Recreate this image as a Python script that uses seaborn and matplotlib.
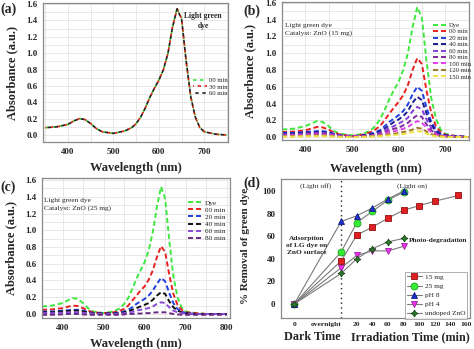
import matplotlib
matplotlib.use("Agg")
import matplotlib.pyplot as plt
import seaborn as sns

# ---------------- data ----------------
wl = [350, 375, 400, 412, 425, 437, 450, 462, 475, 500, 525, 540, 550, 560, 570,
      580, 590, 600, 610, 620, 630, 640, 650, 660, 670, 680, 690, 700, 725, 750]
wl_c = wl + [775, 800]

# (a) light green dye alone, kept in the dark
abs_a_00 = [0.09, 0.10, 0.13, 0.17, 0.20, 0.19, 0.14, 0.08, 0.04, 0.02, 0.05, 0.09, 0.14, 0.22, 0.33,
            0.46, 0.57, 0.67, 0.80, 1.00, 1.32, 1.55, 1.42, 0.90, 0.47, 0.22, 0.09, 0.04, 0.01, 0.00]
abs_a_30 = [0.09, 0.10, 0.13, 0.17, 0.20, 0.19, 0.14, 0.08, 0.04, 0.02, 0.05, 0.09, 0.14, 0.22, 0.33,
            0.46, 0.57, 0.67, 0.80, 1.00, 1.32, 1.54, 1.42, 0.90, 0.47, 0.22, 0.09, 0.04, 0.01, 0.00]
abs_a_60 = [0.09, 0.10, 0.13, 0.17, 0.20, 0.19, 0.14, 0.08, 0.04, 0.02, 0.05, 0.09, 0.14, 0.22, 0.33,
            0.46, 0.57, 0.67, 0.80, 1.00, 1.32, 1.54, 1.41, 0.90, 0.47, 0.22, 0.09, 0.04, 0.01, 0.00]
labels_a = ["00 min", "30 min", "60 min"]

# (b) ZnO 15 mg
abs_b = {
    "Dye":     [0.09, 0.10, 0.13, 0.16, 0.19, 0.18, 0.13, 0.07, 0.04, 0.02, 0.04, 0.08, 0.13, 0.21, 0.32,
                0.45, 0.56, 0.66, 0.80, 1.00, 1.31, 1.55, 1.42, 0.90, 0.47, 0.22, 0.09, 0.04, 0.01, 0.00],
    "00 min":  [0.06, 0.065, 0.08, 0.10, 0.12, 0.115, 0.09, 0.05, 0.03, 0.01, 0.03, 0.06, 0.09, 0.13, 0.20,
                0.28, 0.35, 0.42, 0.50, 0.62, 0.80, 0.94, 0.87, 0.55, 0.29, 0.13, 0.06, 0.03, 0.01, 0.00],
    "20 min":  [0.05, 0.05, 0.06, 0.065, 0.07, 0.07, 0.06, 0.04, 0.02, 0.01, 0.02, 0.04, 0.06, 0.08, 0.13,
                0.18, 0.22, 0.26, 0.31, 0.39, 0.51, 0.60, 0.55, 0.35, 0.18, 0.09, 0.04, 0.02, 0.01, 0.00],
    "40 min":  [0.04, 0.04, 0.05, 0.055, 0.06, 0.06, 0.05, 0.035, 0.02, 0.01, 0.02, 0.03, 0.04, 0.07, 0.10,
                0.14, 0.18, 0.21, 0.25, 0.31, 0.41, 0.48, 0.44, 0.28, 0.15, 0.07, 0.03, 0.02, 0.01, 0.00],
    "60 min":  [0.03, 0.03, 0.04, 0.045, 0.05, 0.05, 0.04, 0.03, 0.02, 0.01, 0.015, 0.02, 0.03, 0.05, 0.08,
                0.11, 0.13, 0.16, 0.19, 0.23, 0.31, 0.36, 0.33, 0.21, 0.11, 0.05, 0.02, 0.01, 0.005, 0.00],
    "80 min":  [0.02, 0.02, 0.03, 0.035, 0.04, 0.04, 0.03, 0.02, 0.01, 0.005, 0.01, 0.015, 0.02, 0.04, 0.06,
                0.08, 0.10, 0.11, 0.14, 0.17, 0.22, 0.26, 0.24, 0.15, 0.08, 0.04, 0.02, 0.01, 0.005, 0.00],
    "100 min": [0.02, 0.02, 0.025, 0.03, 0.03, 0.03, 0.025, 0.02, 0.01, 0.005, 0.01, 0.01, 0.02, 0.03, 0.04,
                0.06, 0.07, 0.08, 0.10, 0.12, 0.16, 0.19, 0.17, 0.11, 0.06, 0.03, 0.015, 0.01, 0.005, 0.00],
    "120 min": [0.01, 0.01, 0.015, 0.02, 0.02, 0.02, 0.015, 0.01, 0.005, 0.0, 0.005, 0.01, 0.01, 0.02, 0.025,
                0.035, 0.04, 0.05, 0.06, 0.07, 0.09, 0.11, 0.10, 0.065, 0.035, 0.02, 0.01, 0.005, 0.0, 0.00],
    "150 min": [0.005, 0.005, 0.01, 0.01, 0.01, 0.01, 0.01, 0.005, 0.0, 0.0, 0.0, 0.005, 0.01, 0.01, 0.015,
                0.02, 0.025, 0.03, 0.035, 0.045, 0.06, 0.07, 0.065, 0.04, 0.02, 0.01, 0.005, 0.0, 0.0, 0.00],
}
colors_b = ["#3ee83e", "#e82020", "#1f3fe0", "#1a1a8c", "#8a3fd8", "#7b2a9c", "#e040e8", "#a07828", "#f0e040"]

# (c) ZnO 25 mg
abs_c = {
    "Dye":    [0.09, 0.10, 0.13, 0.16, 0.19, 0.18, 0.13, 0.07, 0.03, 0.01, 0.03, 0.07, 0.12, 0.19, 0.30,
               0.42, 0.52, 0.62, 0.76, 0.98, 1.28, 1.52, 1.38, 0.88, 0.45, 0.20, 0.08, 0.03, 0.01, 0.0, 0.0, 0.0],
    "00 min": [0.05, 0.055, 0.07, 0.085, 0.10, 0.095, 0.07, 0.04, 0.02, 0.01, 0.02, 0.04, 0.06, 0.10, 0.16,
               0.22, 0.28, 0.33, 0.41, 0.52, 0.68, 0.81, 0.74, 0.47, 0.24, 0.11, 0.05, 0.02, 0.01, 0.0, 0.0, 0.0],
    "20 min": [0.03, 0.03, 0.04, 0.045, 0.05, 0.05, 0.04, 0.025, 0.01, 0.005, 0.01, 0.02, 0.03, 0.05, 0.08,
               0.12, 0.15, 0.18, 0.22, 0.28, 0.36, 0.43, 0.39, 0.25, 0.13, 0.06, 0.03, 0.01, 0.0, 0.0, 0.0, 0.0],
    "40 min": [0.02, 0.02, 0.03, 0.035, 0.04, 0.04, 0.03, 0.02, 0.01, 0.005, 0.005, 0.01, 0.02, 0.03, 0.05,
               0.07, 0.09, 0.11, 0.13, 0.17, 0.22, 0.26, 0.24, 0.15, 0.08, 0.04, 0.02, 0.01, 0.0, 0.0, 0.0, 0.0],
    "60 min": [0.01, 0.01, 0.015, 0.02, 0.02, 0.02, 0.015, 0.01, 0.005, 0.0, 0.0, 0.005, 0.01, 0.015, 0.025,
               0.04, 0.05, 0.06, 0.07, 0.09, 0.12, 0.14, 0.13, 0.08, 0.04, 0.02, 0.01, 0.005, 0.0, 0.0, 0.0, 0.0],
    "80 min": [-0.01, -0.01, -0.005, 0.0, 0.0, 0.0, -0.005, -0.01, -0.01, -0.01, -0.01, -0.01, -0.005, 0.0, 0.0,
               0.005, 0.005, 0.01, 0.01, 0.015, 0.02, 0.02, 0.02, 0.01, 0.0, -0.005, -0.01, -0.01, -0.01, -0.01, -0.01, -0.01],
}
colors_c = ["#3ee83e", "#e82020", "#1f3fe0", "#111111", "#8a4ad8", "#6a2a80"]

# (d) % removal; x = -60 stands for dark time 0, x = 0 for "overnight"
t_long = [-60, 0, 20, 40, 60, 80, 100, 120, 150]
t_short = [-60, 0, 20, 40, 60, 80]
rem_15mg = [0, 38, 61, 68, 76, 83, 87, 91, 96]
rem_25mg = [0, 46, 72, 82, 92, 99]
rem_ph8 = [0, 73, 78, 85, 93, 100]
rem_ph4 = [0, 32, 43, 47, 47, 51]
rem_undoped = [0, 27, 40, 49, 55, 58]
d_labels = ["15 mg", "25 mg", "pH 8", "pH 4", "undoped ZnO"]
d_colors = ["#e02020", "#33ee33", "#2030d0", "#ee33ee", "#2a7a2a"]
d_edges = ["#901010", "#20a020", "#101880", "#a020a0", "#1a4a1a"]
d_markers = ["s", "o", "^", "v", (4, 1, 0)]
d_xticks = [-60, 0, 20, 40, 60, 80, 100, 120, 140, 160]
d_xticklabels = ["0", "overnight", "20", "40", "60", "80", "100", "120", "140", "160"]

# ---------------- style ----------------
sns.set_theme(style="white")
plt.rcParams["font.family"] = ["Liberation Serif", "DejaVu Serif"]
plt.rcParams["lines.dashed_pattern"] = [2.6, 1.5]
plt.rcParams["axes.edgecolor"] = "#8a8a8a"

W, H = 474, 349
fig = plt.figure(figsize=(W / 100, H / 100), dpi=100)


def rect(l, t, r, b):
    return [l / W, 1 - b / H, (r - l) / W, (b - t) / H]


ax_a = fig.add_axes(rect(43, 3, 228, 142))
ax_b = fig.add_axes(rect(282, 2, 469, 140))
ax_c = fig.add_axes(rect(42, 178, 230, 318))
ax_d = fig.add_axes(rect(281, 179, 470, 318))

TICK_FS = 6.5
LABEL_FS = 9


def style_spectrum(ax, xlim, ylim, xticks, xlabel_off, ylabel_off):
    ax.set_xlim(*xlim)
    ax.set_ylim(*ylim)
    ax.set_xticks(xticks)
    ax.set_xticks(range(350, int(xlim[1]) + 1, 50), minor=True)
    ax.set_yticks([i * 0.2 for i in range(9)])
    ax.set_yticks([i * 0.1 for i in range(17)], minor=True)
    ax.set_yticklabels([f"{i * 0.2:.1f}" for i in range(9)])
    ax.grid(True, which="both", color="#e4e4e4", lw=0.6)
    ax.set_axisbelow(True)
    ax.tick_params(axis="both", labelsize=TICK_FS, length=2, width=0.6, pad=2,
                   color="#8a8a8a", direction="out")
    ax.tick_params(which="minor", length=0)
    for lab in ax.get_xticklabels() + ax.get_yticklabels():
        lab.set_fontweight("bold")
    for s in ax.spines.values():
        s.set_linewidth(0.9)
    ax.set_xlabel("Wavelength (nm)", fontsize=LABEL_FS, fontweight="bold")
    ax.set_ylabel("Absorbance (a.u.)", fontsize=LABEL_FS, fontweight="bold")
    ax.xaxis.set_label_coords(0.5, xlabel_off)
    ax.yaxis.set_label_coords(ylabel_off, 0.5)


# ---------------- (a) ----------------
# the three overlapping curves get staggered dash offsets so each colour shows through
for vals, col, lab, off in zip([abs_a_00, abs_a_30, abs_a_60], ["#3ee83e", "#e82020", "#222222"],
                               labels_a, [0.0, 1.4, 2.8]):
    sns.lineplot(x=wl, y=vals, ax=ax_a, color=col, linestyle=(off, (2.0, 2.2)), lw=1.2, label=lab)
style_spectrum(ax_a, (345, 752), (-0.085, 1.612), [400, 500, 600, 700], -0.145, -0.135)
ax_a.legend(loc="upper left", bbox_to_anchor=(190 / W, 1 - 74 / H), bbox_transform=fig.transFigure,
            frameon=False, fontsize=4.8, handlelength=2.0, handletextpad=0.3, labelspacing=0.15,
            borderpad=0)
fig.text(203 / W, 1 - 21 / H, "Light green\ndye", ha="center", va="center", fontsize=5.5,
         fontweight="bold", linespacing=1.3)

# ---------------- (b) ----------------
for (lab, vals), col in zip(abs_b.items(), colors_b):
    sns.lineplot(x=wl, y=vals, ax=ax_b, color=col, linestyle="--", lw=1.4, label=lab)
style_spectrum(ax_b, (350, 751), (-0.035, 1.61), [400, 500, 600, 700], -0.165, -0.135)
ax_b.legend(loc="upper left", bbox_to_anchor=(430 / W, 1 - 19 / H), bbox_transform=fig.transFigure,
            frameon=False, fontsize=4.8, handlelength=2.0, handletextpad=0.35, labelspacing=0.12,
            borderpad=0)
fig.text(285 / W, 1 - 29.5 / H, "Light green dye\nCatalyst: ZnO (15 mg)", ha="left", va="center",
         fontsize=5.3, linespacing=1.45)

# ---------------- (c) ----------------
for (lab, vals), col in zip(abs_c.items(), colors_c):
    sns.lineplot(x=wl_c, y=vals, ax=ax_c, color=col, linestyle="--", lw=1.4, label=lab)
style_spectrum(ax_c, (352, 808), (-0.048, 1.624), [400, 500, 600, 700, 800], -0.145, -0.13)
ax_c.legend(loc="upper left", bbox_to_anchor=(184 / W, 1 - 196 / H), bbox_transform=fig.transFigure,
            frameon=False, fontsize=5.2, handlelength=2.2, handletextpad=0.2, labelspacing=0.15,
            borderpad=0)
fig.text(44 / W, 1 - 204.5 / H, "Light green dye\nCatalyst: ZnO (25 mg)", ha="left", va="center",
         fontsize=5.3, linespacing=1.45)

# ---------------- (d) ----------------
d_series = [(t_long, rem_15mg), (t_short, rem_25mg), (t_short, rem_ph8), (t_short, rem_ph4),
            (t_short, rem_undoped)]
for (tx, ry), lab, fc, ec, mk in zip(d_series, d_labels, d_colors, d_edges, d_markers):
    sns.lineplot(x=tx, y=ry, ax=ax_d, color="#7a7a7a", lw=0.8, marker=mk, markersize=5,
                 markerfacecolor=fc, markeredgecolor=ec, markeredgewidth=0.6, label=lab)
ax_d.axvline(0, color="#222222", lw=1.0, linestyle=(0, (1, 2.5)), zorder=0)
ax_d.set_xlim(-77, 165)
ax_d.set_ylim(-12.4, 110.6)
ax_d.set_xticks(d_xticks)
ax_d.set_xticklabels(d_xticklabels)
ax_d.set_yticks([0, 20, 40, 60, 80, 100])
ax_d.tick_params(axis="both", labelsize=TICK_FS, length=2, width=0.6, pad=2, color="#8a8a8a")
ax_d.tick_params(axis="x", labelsize=5.4, pad=1)
for lab in ax_d.get_xticklabels() + ax_d.get_yticklabels():
    lab.set_fontweight("bold")
ax_d.get_xticklabels()[1].set_horizontalalignment("right")
for s in ax_d.spines.values():
    s.set_linewidth(0.9)
ax_d.set_ylabel("% Removal of green dye", fontsize=8.0, fontweight="bold")
ax_d.yaxis.set_label_coords(-0.165, 0.52)
ax_d.set_xlabel("")
fig.text(312 / W, 1 - 337 / H, "Dark Time", ha="center", va="center", fontsize=8.7, fontweight="bold")
fig.text(410 / W, 1 - 337 / H, "Irradiation Time (min)", ha="center", va="center", fontsize=8.7,
         fontweight="bold")
ax_d.text(-33, 104, "(Light off)", ha="center", va="center", fontsize=5.3)
ax_d.text(91, 104, "(Light on)", ha="center", va="center", fontsize=5.3)
ax_d.text(-44, 52, "Adsorption\nof LG dye on\nZnO surface", ha="center", va="center", fontsize=5.3,
          fontweight="bold", linespacing=1.5)
ax_d.text(124, 56, "Photo-degradation", ha="center", va="center", fontsize=5.3, fontweight="bold")
leg = ax_d.legend(loc="upper left", bbox_to_anchor=(401 / W, 1 - 268 / H), bbox_transform=fig.transFigure,
                  frameon=True, fontsize=5.3, handlelength=2.0, handletextpad=0.4, labelspacing=0.4,
                  borderpad=0.3, fancybox=False, edgecolor="#8a8a8a")
leg.get_frame().set_linewidth(0.6)

# ---------------- panel tags ----------------
for x, y, tag in [(0, 9, "(a)"), (243, 11, "(b)"), (0, 187, "(c)"), (243, 183, "(d)")]:
    fig.text(x / W, 1 - y / H, tag, ha="left", va="center", fontsize=10, fontweight="bold")

fig.savefig("out.png", dpi=100)
